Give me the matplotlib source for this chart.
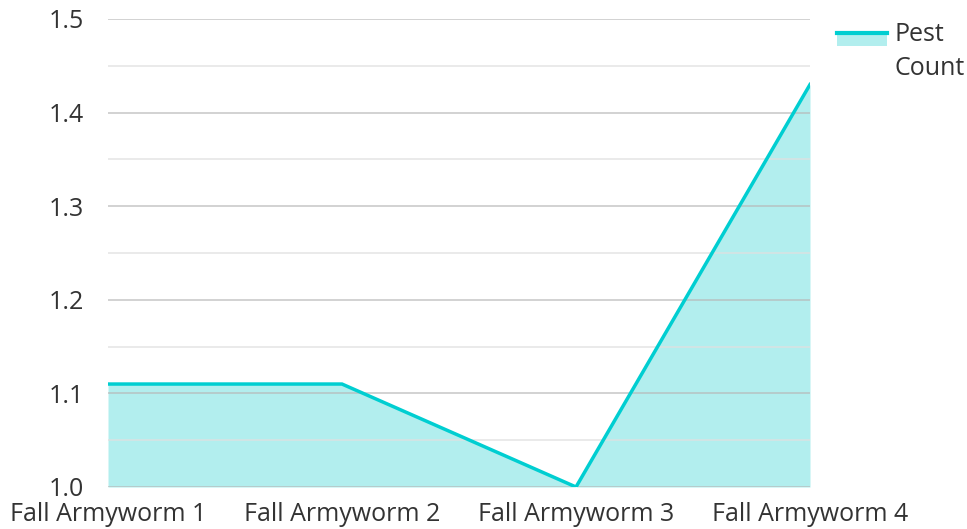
import matplotlib
matplotlib.use("Agg")
import matplotlib.pyplot as plt
from matplotlib.legend_handler import HandlerBase
from matplotlib.patches import Rectangle
from matplotlib.lines import Line2D
from matplotlib.ticker import MultipleLocator

categories = ["Fall Armyworm 1", "Fall Armyworm 2", "Fall Armyworm 3", "Fall Armyworm 4"]
pest_count = [1.11, 1.11, 1.0, 1.43]
series_name = "Pest\nCount"

plt.rcParams['font.family'] = ['Open Sans', 'DejaVu Sans']
line_color = "#00CED1"
fill_color = "#B2EEEE"
text_color = "#333333"

fig = plt.figure(figsize=(9.67, 5.29), dpi=100)
ax = fig.add_axes([108/967, 1-487/529, (810-108)/967, (487-19)/529])

x = list(range(len(categories)))
ax.fill_between(x, pest_count, 1.0, color=fill_color, linewidth=0, zorder=1)
ax.plot(x, pest_count, color=line_color, linewidth=2.5, zorder=3, solid_joinstyle='miter')

ax.set_xlim(0, len(categories) - 1)
ax.set_ylim(1.0, 1.5)
ax.yaxis.set_major_locator(MultipleLocator(0.1))
ax.yaxis.set_minor_locator(MultipleLocator(0.05))
ax.grid(axis='y', which='major', color='#b8b8b8', linewidth=1.1, alpha=0.8, zorder=2)
ax.grid(axis='y', which='minor', color='#e0e0e0', linewidth=1.1, alpha=0.85, zorder=2)
ax.set_axisbelow(False)
for s in ax.spines.values():
    s.set_visible(False)
ax.set_xticks(x)
ax.set_xticklabels(categories)
ax.tick_params(axis='both', which='both', length=0, labelsize=18, colors=text_color)
ax.tick_params(axis='x', pad=11)
ax.tick_params(axis='y', pad=17)
ax.set_yticklabels([f"{v:.1f}" for v in ax.get_yticks()])

class FillLineHandler(HandlerBase):
    def create_artists(self, legend, orig_handle, xdescent, ydescent, width, height, fontsize, trans):
        top = height * 0.9 + 9
        rect = Rectangle((-xdescent, -ydescent + top - 10), width, 10,
                         facecolor=fill_color, edgecolor='none', transform=trans)
        line = Line2D([-xdescent, -xdescent + width], [-ydescent + top, -ydescent + top],
                      color=line_color, linewidth=3, transform=trans)
        return [rect, line]

handle = Line2D([], [])
leg = fig.legend([handle], [series_name], handler_map={Line2D: FillLineHandler()},
                 loc='upper left', bbox_to_anchor=(832/967, 1-17/529), frameon=False,
                 fontsize=18, handlelength=2.0, handletextpad=0.3, labelcolor=text_color,
                 borderaxespad=0, borderpad=0.2)
for t in leg.get_texts():
    t.set_linespacing(1.45)

fig.savefig("out.png", dpi=100)
